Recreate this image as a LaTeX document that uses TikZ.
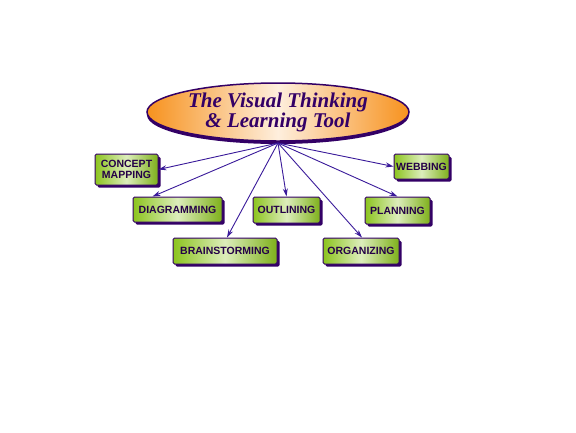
\documentclass[tikz,border=0pt]{standalone}
\usepackage{fontspec}
\setmainfont{Liberation Sans}
\newfontfamily\titlefont{Liberation Serif}
\usetikzlibrary{shapes.geometric,shadows,arrows.meta}
\definecolor{inkpurple}{HTML}{330066}
\definecolor{linepurple}{HTML}{3A1A9A}
\definecolor{leafgreen}{HTML}{8CC41E}
\definecolor{tangerine}{HTML}{F7921E}
\tikzset{
  topic/.style={draw=inkpurple, line width=1pt, rounded corners=1.5pt,
    left color=leafgreen, right color=leafgreen!90!black, middle color=white!70!leafgreen,
    drop shadow={shadow xshift=2.5pt, shadow yshift=-2.5pt, fill=inkpurple, opacity=1},
    font=\fontsize{10.5}{11}\selectfont\bfseries, text=inkpurple!70!black,
    align=center, inner sep=0pt},
  link/.style={draw=linepurple, line width=0.9pt, -{Stealth[length=8pt,width=5pt]}}
}
\begin{document}
\begin{tikzpicture}[x=1pt,y=-1pt]
  \useasboundingbox[fill=white] (0,0) rectangle (576,432);

  \node (tool) [ellipse, draw=inkpurple, line width=1.5pt,
    minimum width=262pt, minimum height=58pt,
    left color=tangerine, right color=tangerine, middle color=white!85!tangerine,
    drop shadow={shadow xshift=0pt, shadow yshift=-3pt, fill=inkpurple, opacity=1},
    font=\titlefont\fontsize{21}{20}\selectfont\bfseries\itshape, text=inkpurple,
    align=center, inner sep=0pt] at (278,112) {The Visual Thinking\\\&~Learning Tool};
  \coordinate (hub) at (278,143);

  \node (concept) [topic, minimum width=63pt, minimum height=31pt] at (126.5,169.5) {CONCEPT\\MAPPING};
  \node (diagram) [topic, minimum width=89pt, minimum height=25pt] at (177.5,209.5) {DIAGRAMMING};
  \node (brain) [topic, minimum width=104pt, minimum height=26pt] at (225,251) {BRAINSTORMING};
  \node (outline) [topic, minimum width=67pt, minimum height=26pt] at (286.5,210) {OUTLINING};
  \node (organize) [topic, minimum width=76pt, minimum height=26pt] at (361,251) {ORGANIZING};
  \node (plan) [topic, minimum width=65pt, minimum height=27pt] at (397.5,210.5) {PLANNING};
  \node (web) [topic, minimum width=55pt, minimum height=25pt] at (421.5,166.5) {WEBBING};

  \draw[link] (hub) -- (concept.east);
  \draw[link] (hub) -- ([xshift=-25pt]diagram.north);
  \draw[link] (hub) -- ([xshift=2pt]brain.north);
  \draw[link] (hub) -- (outline.north);
  \draw[link] (hub) -- ([xshift=1pt]organize.north);
  \draw[link] (hub) -- (plan.north);
  \draw[link] (hub) -- (web.west);
\end{tikzpicture}
\end{document}
